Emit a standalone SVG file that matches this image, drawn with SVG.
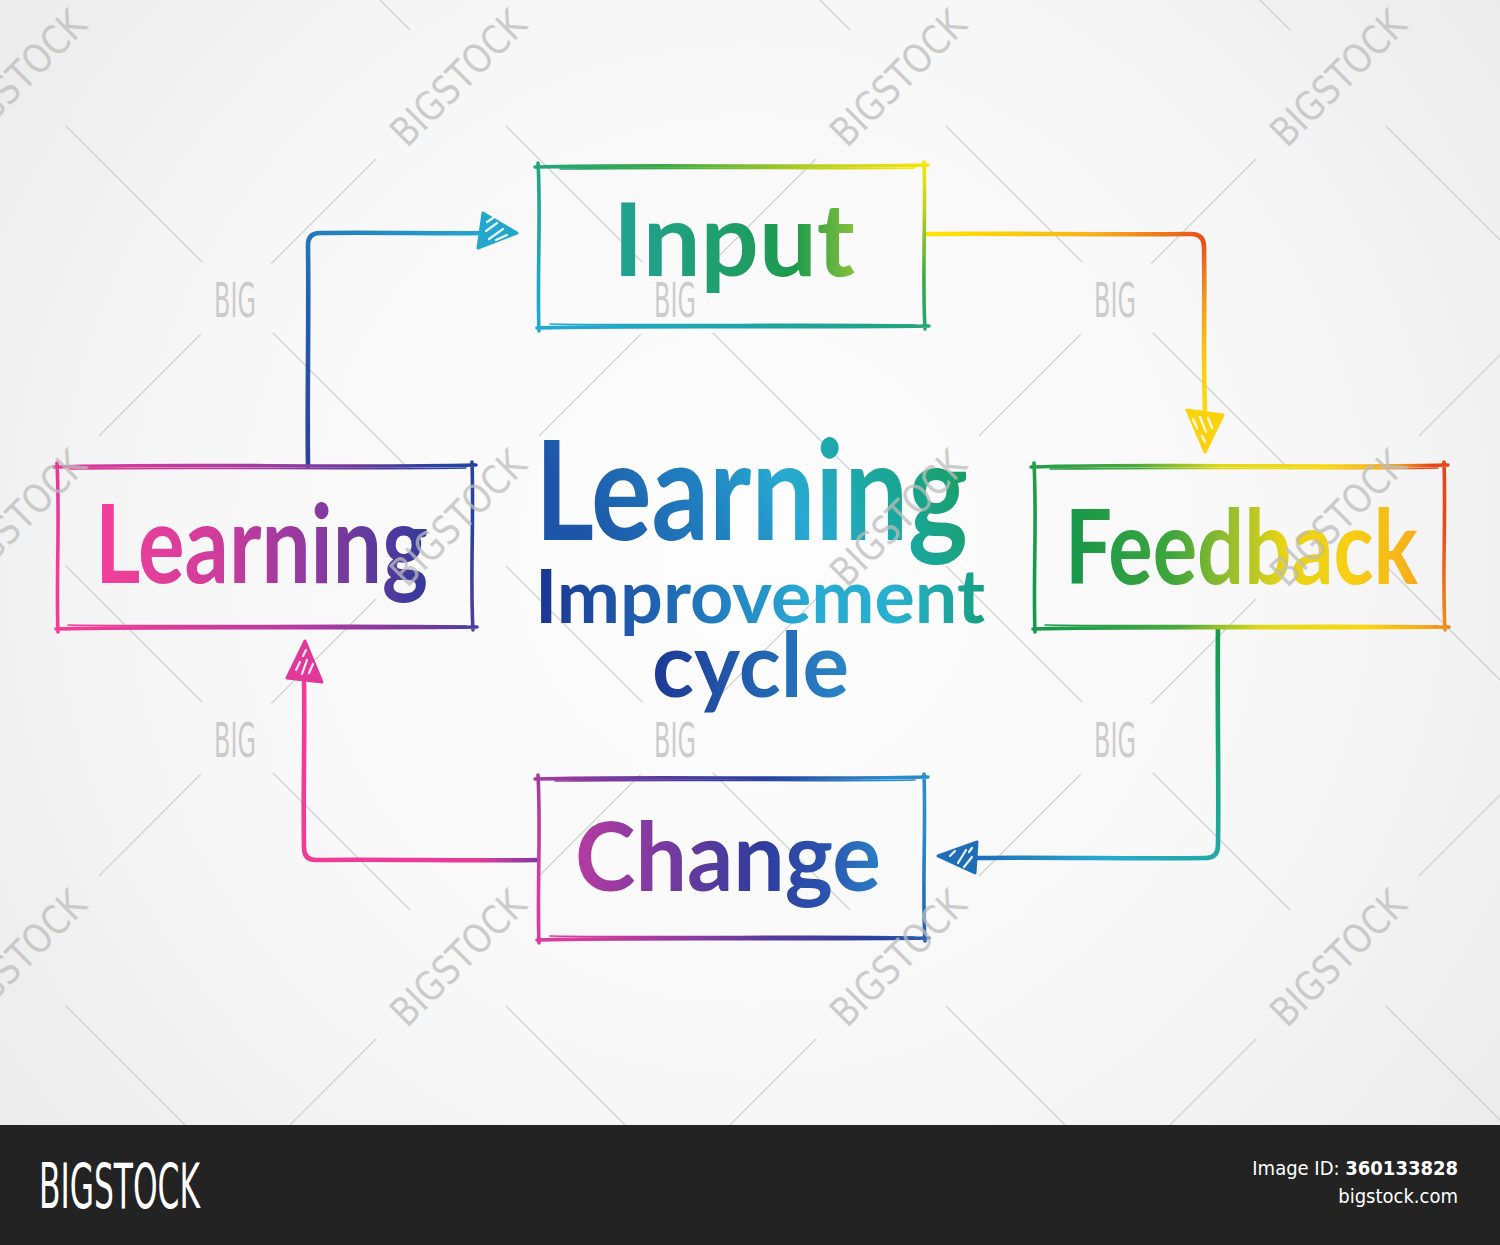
<svg xmlns="http://www.w3.org/2000/svg" width="1500" height="1245" viewBox="0 0 1500 1245">
<defs>
<style>
.lbl{font-family:"Lato","Open Sans","Liberation Sans",sans-serif;font-weight:700;}
.wm{font-family:"Liberation Sans Narrow","DejaVu Sans Condensed","Liberation Sans",sans-serif;fill:#bdbdbd;fill-opacity:0.75;}
.box{fill:none;stroke-width:3.6;stroke-linecap:round;stroke-linejoin:round;}
.box2{fill:none;stroke-width:1.6;stroke-linecap:round;}
.con{fill:none;stroke-width:4.6;stroke-linecap:round;stroke-linejoin:round;}
.head{stroke-width:3;stroke-linejoin:round;}
.hatch{fill:none;stroke:#ffffff;stroke-width:2.2;stroke-linecap:round;stroke-opacity:0.9;}
.wline{stroke:#c9c9c9;stroke-width:1.1;}
.foot{font-family:"Liberation Sans Narrow","DejaVu Sans Condensed","Liberation Sans",sans-serif;fill:#ffffff;}
</style>
<radialGradient id="bg" cx="750" cy="560" r="950" gradientUnits="userSpaceOnUse">
<stop offset="0" stop-color="#fdfdfd"/><stop offset="0.6" stop-color="#f7f7f7"/><stop offset="1" stop-color="#ebebeb"/>
</radialGradient>
<linearGradient id="gInputBox" x1="0" y1="1" x2="1" y2="0">
<stop offset="0" stop-color="#23a8d8"/><stop offset="0.45" stop-color="#1ea489"/><stop offset="0.65" stop-color="#3aa845"/><stop offset="0.85" stop-color="#b8d020"/><stop offset="1" stop-color="#ffe800"/>
</linearGradient>
<linearGradient id="gFeedBox" x1="0" y1="0.55" x2="1" y2="0.45">
<stop offset="0" stop-color="#179a4c"/><stop offset="0.3" stop-color="#4aa93c"/><stop offset="0.5" stop-color="#dfd818"/><stop offset="0.75" stop-color="#f8d812"/><stop offset="0.92" stop-color="#f4a01c"/><stop offset="1" stop-color="#e8461a"/>
</linearGradient>
<linearGradient id="gLearnBox" x1="0" y1="0.6" x2="1" y2="0.4">
<stop offset="0" stop-color="#f23c96"/><stop offset="0.5" stop-color="#b43aa0"/><stop offset="0.8" stop-color="#6a3a9e"/><stop offset="1" stop-color="#2842a2"/>
</linearGradient>
<linearGradient id="gChangeBox" x1="0" y1="0.65" x2="1" y2="0.35">
<stop offset="0" stop-color="#d83c9e"/><stop offset="0.45" stop-color="#5a3a9e"/><stop offset="0.7" stop-color="#2a3e9c"/><stop offset="1" stop-color="#2a8dcb"/>
</linearGradient>
<linearGradient id="tInput" x1="0" y1="0" x2="1" y2="0">
<stop offset="0" stop-color="#21a294"/><stop offset="0.45" stop-color="#1f9e6c"/><stop offset="0.75" stop-color="#1e9a4c"/><stop offset="1" stop-color="#86c23a"/>
</linearGradient>
<linearGradient id="tFeed" x1="0" y1="0" x2="1" y2="0">
<stop offset="0" stop-color="#15964a"/><stop offset="0.3" stop-color="#3ea53c"/><stop offset="0.5" stop-color="#a8c42a"/><stop offset="0.62" stop-color="#e8d414"/><stop offset="0.8" stop-color="#f7cf14"/><stop offset="1" stop-color="#f5ad1a"/>
</linearGradient>
<linearGradient id="tLearnBox" x1="0" y1="0" x2="1" y2="0">
<stop offset="0" stop-color="#f4409a"/><stop offset="0.35" stop-color="#d23c9c"/><stop offset="0.65" stop-color="#8e3aa0"/><stop offset="1" stop-color="#33399b"/>
</linearGradient>
<linearGradient id="tChange" x1="0" y1="0" x2="1" y2="0">
<stop offset="0" stop-color="#b63ba1"/><stop offset="0.35" stop-color="#6c3a9f"/><stop offset="0.6" stop-color="#303c9c"/><stop offset="0.8" stop-color="#2a50ac"/><stop offset="1" stop-color="#2a80c4"/>
</linearGradient>
<linearGradient id="tTitle1" x1="0" y1="0.2" x2="1" y2="0">
<stop offset="0" stop-color="#1d56a8"/><stop offset="0.3" stop-color="#2080c0"/><stop offset="0.5" stop-color="#27a9d2"/><stop offset="0.7" stop-color="#1aa8a0"/><stop offset="1" stop-color="#189a4a"/>
</linearGradient>
<linearGradient id="tTitle2" x1="0" y1="0" x2="1" y2="0">
<stop offset="0" stop-color="#1b3592"/><stop offset="0.35" stop-color="#2072bb"/><stop offset="0.6" stop-color="#28aad2"/><stop offset="0.8" stop-color="#27b0cf"/><stop offset="1" stop-color="#17a07e"/>
</linearGradient>
<linearGradient id="tTitle3" x1="0" y1="0" x2="1" y2="0">
<stop offset="0" stop-color="#1c3896"/><stop offset="1" stop-color="#2986c6"/>
</linearGradient>
<linearGradient id="c1" gradientUnits="userSpaceOnUse" x1="308" y1="466" x2="482" y2="233">
<stop offset="0" stop-color="#2c3f9c"/><stop offset="0.45" stop-color="#2160b0"/><stop offset="1" stop-color="#24a6cf"/>
</linearGradient>
<linearGradient id="c2a" gradientUnits="userSpaceOnUse" x1="924" y1="0" x2="1204" y2="0">
<stop offset="0" stop-color="#ffe600"/><stop offset="0.6" stop-color="#f7b21c"/><stop offset="0.9" stop-color="#ec6a1a"/><stop offset="1" stop-color="#e84e18"/>
</linearGradient>
<linearGradient id="c2b" gradientUnits="userSpaceOnUse" x1="0" y1="240" x2="0" y2="412">
<stop offset="0" stop-color="#e8501a"/><stop offset="0.35" stop-color="#f39a1c"/><stop offset="0.75" stop-color="#fcd010"/><stop offset="1" stop-color="#fcdc10"/>
</linearGradient>
<linearGradient id="c3a" gradientUnits="userSpaceOnUse" x1="0" y1="628" x2="0" y2="858">
<stop offset="0" stop-color="#17984c"/><stop offset="0.7" stop-color="#1ea588"/><stop offset="1" stop-color="#22a8a6"/>
</linearGradient>
<linearGradient id="c3b" gradientUnits="userSpaceOnUse" x1="1206" y1="0" x2="977" y2="0">
<stop offset="0" stop-color="#22a8a6"/><stop offset="0.45" stop-color="#27aad2"/><stop offset="1" stop-color="#1f6cb6"/>
</linearGradient>
<linearGradient id="c4" gradientUnits="userSpaceOnUse" x1="537" y1="0" x2="304" y2="0">
<stop offset="0" stop-color="#7e3aa0"/><stop offset="0.25" stop-color="#e43c9a"/><stop offset="1" stop-color="#f03c96"/>
</linearGradient>
<mask id="lineMask" maskUnits="userSpaceOnUse" x="0" y="0" width="1500" height="1245">
<rect x="0" y="0" width="1500" height="1245" fill="#ffffff"/>
<g fill="#000000">
<rect x="-115" y="-68" width="230" height="136" transform="translate(18,78) rotate(-45)"/>
<rect x="-115" y="-68" width="230" height="136" transform="translate(458,78) rotate(-45)"/>
<rect x="-115" y="-68" width="230" height="136" transform="translate(898,78) rotate(-45)"/>
<rect x="-115" y="-68" width="230" height="136" transform="translate(1338,78) rotate(-45)"/>
<rect x="-115" y="-68" width="230" height="136" transform="translate(18,518) rotate(-45)"/>
<rect x="-115" y="-68" width="230" height="136" transform="translate(458,518) rotate(-45)"/>
<rect x="-115" y="-68" width="230" height="136" transform="translate(898,518) rotate(-45)"/>
<rect x="-115" y="-68" width="230" height="136" transform="translate(1338,518) rotate(-45)"/>
<rect x="-115" y="-68" width="230" height="136" transform="translate(18,958) rotate(-45)"/>
<rect x="-115" y="-68" width="230" height="136" transform="translate(458,958) rotate(-45)"/>
<rect x="-115" y="-68" width="230" height="136" transform="translate(898,958) rotate(-45)"/>
<rect x="-115" y="-68" width="230" height="136" transform="translate(1338,958) rotate(-45)"/>
<circle cx="236" cy="299" r="50"/><circle cx="676" cy="299" r="50"/><circle cx="1116" cy="299" r="50"/>
<circle cx="236" cy="739" r="50"/><circle cx="676" cy="739" r="50"/><circle cx="1116" cy="739" r="50"/>
</g>
</mask>
</defs>

<rect x="0" y="0" width="1500" height="1245" fill="url(#bg)"/>

<g id="watermark-lines" class="wline" mask="url(#lineMask)">
<line x1="-10" y1="-1270" x2="1510" y2="250"/>
<line x1="-10" y1="-830" x2="1510" y2="690"/>
<line x1="-10" y1="-390" x2="1510" y2="1130"/>
<line x1="-10" y1="50" x2="1510" y2="1570"/>
<line x1="-10" y1="490" x2="1510" y2="2010"/>
<line x1="-10" y1="930" x2="1510" y2="2450"/>
<line x1="-10" y1="105" x2="105" y2="-10"/>
<line x1="-10" y1="545" x2="545" y2="-10"/>
<line x1="-10" y1="985" x2="985" y2="-10"/>
<line x1="-10" y1="1425" x2="1425" y2="-10"/>
<line x1="-10" y1="1865" x2="1865" y2="-10"/>
<line x1="-10" y1="2305" x2="2305" y2="-10"/>
</g>

<g id="connectors">
<path class="con" stroke="url(#c1)" d="M308,466 C307,400 309,320 308,245 Q308,233 320,233 C380,232 440,234 482,233"/>
<polygon class="head" fill="#23a7cc" stroke="#23a7cc" points="483,213 517,233 478,248"/>
<path class="hatch" d="M487,222 L493,218 M486,231 L497,223 M489,239 L503,229 M496,240 L507,235"/>

<path class="con" stroke="url(#c2a)" d="M925,234 C1000,233 1100,235 1191,234 Q1204,234 1204,247"/>
<path class="con" stroke="url(#c2b)" d="M1204,247 C1205,300 1203,360 1205,412"/>
<polygon class="head" fill="#fcd20f" stroke="#fcd20f" points="1187,410 1223,415 1205,452"/>
<path class="hatch" d="M1193,419 L1197,428 M1200,417 L1206,432 M1208,418 L1212,428 M1202,436 L1205,442"/>

<path class="con" stroke="url(#c3a)" d="M1218,628 C1217,700 1219,780 1218,845 Q1218,858 1206,858"/>
<path class="con" stroke="url(#c3b)" d="M1206,858 C1130,859 1050,857 977,858"/>
<polygon class="head" fill="#1f6db8" stroke="#1f6db8" points="938,856 977,842 975,873"/>
<path class="hatch" d="M950,856 L955,851 M958,863 L966,850 M964,867 L972,857 M969,852 L972,848"/>

<path class="con" stroke="url(#c4)" d="M537,860 C460,861 380,859 316,860 Q304,860 304,848 C303,790 305,730 304,682"/>
<polygon class="head" fill="#e0399a" stroke="#e0399a" points="305,641 322,682 287,678"/>
<path class="hatch" d="M296,670 L300,662 M302,674 L307,660 M309,673 L313,664 M303,656 L306,650"/>
</g>

<g id="node-input">
<path class="box" stroke="url(#gInputBox)" d="M535,167 C650,164 800,168 928,165 M924,162 C926,210 922,280 925,329 M929,326 C800,328 650,325 537,328 M539,331 C537,280 541,210 538,163"/>
<path class="box2" stroke="url(#gInputBox)" d="M560,169 C700,167 820,170 915,168 M550,324 C680,326 800,323 915,325"/>
<text class="lbl" x="613" y="276" font-size="101" textLength="242" lengthAdjust="spacingAndGlyphs" fill="url(#tInput)">Input</text>
</g>

<g id="node-feedback">
<path class="box" stroke="url(#gFeedBox)" d="M1031,467 C1150,463 1300,468 1448,465 M1444,462 C1446,520 1442,580 1445,630 M1449,627 C1300,629 1150,626 1033,629 M1035,632 C1033,580 1037,520 1034,463"/>
<path class="box2" stroke="url(#gFeedBox)" d="M1050,469 C1200,467 1330,470 1438,468 M1045,625 C1200,627 1320,624 1438,626"/>
<text class="lbl" x="1065" y="584" font-size="104" textLength="353" lengthAdjust="spacingAndGlyphs" fill="url(#tFeed)">Feedback</text>
</g>

<g id="node-learning">
<path class="box" stroke="url(#gLearnBox)" d="M54,467 C180,463 330,468 476,465 M472,462 C474,520 470,580 473,630 M477,627 C330,629 180,626 56,629 M58,632 C56,580 60,520 57,463"/>
<path class="box2" stroke="url(#gLearnBox)" d="M70,469 C200,467 340,470 466,468 M68,625 C200,627 330,624 466,626"/>
<text class="lbl" x="95" y="583" font-size="110" textLength="333" lengthAdjust="spacingAndGlyphs" fill="url(#tLearnBox)">Learning</text>
</g>

<g id="node-change">
<path class="box" stroke="url(#gChangeBox)" d="M535,779 C650,776 800,780 928,777 M924,774 C926,830 922,890 925,941 M929,938 C800,940 650,937 537,940 M539,943 C537,890 541,830 538,775"/>
<path class="box2" stroke="url(#gChangeBox)" d="M555,781 C700,779 820,782 915,780 M550,936 C680,938 800,935 915,937"/>
<text class="lbl" x="575" y="891" font-size="96" textLength="306" lengthAdjust="spacingAndGlyphs" fill="url(#tChange)">Change</text>
</g>

<g id="title">
<text class="lbl" x="535" y="540" font-size="138" textLength="433" lengthAdjust="spacingAndGlyphs" fill="url(#tTitle1)">Learning</text>
<text class="lbl" x="535" y="623" font-size="74" textLength="450" lengthAdjust="spacingAndGlyphs" fill="url(#tTitle2)">Improvement</text>
<text class="lbl" x="652" y="697" font-size="90" textLength="197" lengthAdjust="spacingAndGlyphs" fill="url(#tTitle3)">cycle</text>
</g>

<g id="watermarks">
<g font-size="40" text-anchor="middle">
<text class="wm" transform="translate(18,78) rotate(-45)" x="0" y="14" textLength="172" lengthAdjust="spacingAndGlyphs">BIGSTOCK</text>
<text class="wm" transform="translate(458,78) rotate(-45)" x="0" y="14" textLength="172" lengthAdjust="spacingAndGlyphs">BIGSTOCK</text>
<text class="wm" transform="translate(898,78) rotate(-45)" x="0" y="14" textLength="172" lengthAdjust="spacingAndGlyphs">BIGSTOCK</text>
<text class="wm" transform="translate(1338,78) rotate(-45)" x="0" y="14" textLength="172" lengthAdjust="spacingAndGlyphs">BIGSTOCK</text>
<text class="wm" transform="translate(18,518) rotate(-45)" x="0" y="14" textLength="172" lengthAdjust="spacingAndGlyphs">BIGSTOCK</text>
<text class="wm" transform="translate(458,518) rotate(-45)" x="0" y="14" textLength="172" lengthAdjust="spacingAndGlyphs">BIGSTOCK</text>
<text class="wm" transform="translate(898,518) rotate(-45)" x="0" y="14" textLength="172" lengthAdjust="spacingAndGlyphs">BIGSTOCK</text>
<text class="wm" transform="translate(1338,518) rotate(-45)" x="0" y="14" textLength="172" lengthAdjust="spacingAndGlyphs">BIGSTOCK</text>
<text class="wm" transform="translate(18,958) rotate(-45)" x="0" y="14" textLength="172" lengthAdjust="spacingAndGlyphs">BIGSTOCK</text>
<text class="wm" transform="translate(458,958) rotate(-45)" x="0" y="14" textLength="172" lengthAdjust="spacingAndGlyphs">BIGSTOCK</text>
<text class="wm" transform="translate(898,958) rotate(-45)" x="0" y="14" textLength="172" lengthAdjust="spacingAndGlyphs">BIGSTOCK</text>
<text class="wm" transform="translate(1338,958) rotate(-45)" x="0" y="14" textLength="172" lengthAdjust="spacingAndGlyphs">BIGSTOCK</text>
</g>
<g font-size="48" text-anchor="middle">
<text class="wm" x="235" y="317" textLength="42" lengthAdjust="spacingAndGlyphs">BIG</text>
<text class="wm" x="675" y="317" textLength="42" lengthAdjust="spacingAndGlyphs">BIG</text>
<text class="wm" x="1115" y="317" textLength="42" lengthAdjust="spacingAndGlyphs">BIG</text>
<text class="wm" x="235" y="757" textLength="42" lengthAdjust="spacingAndGlyphs">BIG</text>
<text class="wm" x="675" y="757" textLength="42" lengthAdjust="spacingAndGlyphs">BIG</text>
<text class="wm" x="1115" y="757" textLength="42" lengthAdjust="spacingAndGlyphs">BIG</text>
</g>
</g>

<g id="footer">
<rect x="0" y="1125" width="1500" height="120" fill="#232323"/>
<text class="foot" x="39" y="1208" font-size="62" textLength="161" lengthAdjust="spacingAndGlyphs">BIGSTOCK</text>
<text class="foot" x="1458" y="1175" font-size="20" text-anchor="end">Image ID: <tspan font-weight="700">360133828</tspan></text>
<text class="foot" x="1458" y="1203" font-size="20" text-anchor="end">bigstock.com</text>
</g>
</svg>
